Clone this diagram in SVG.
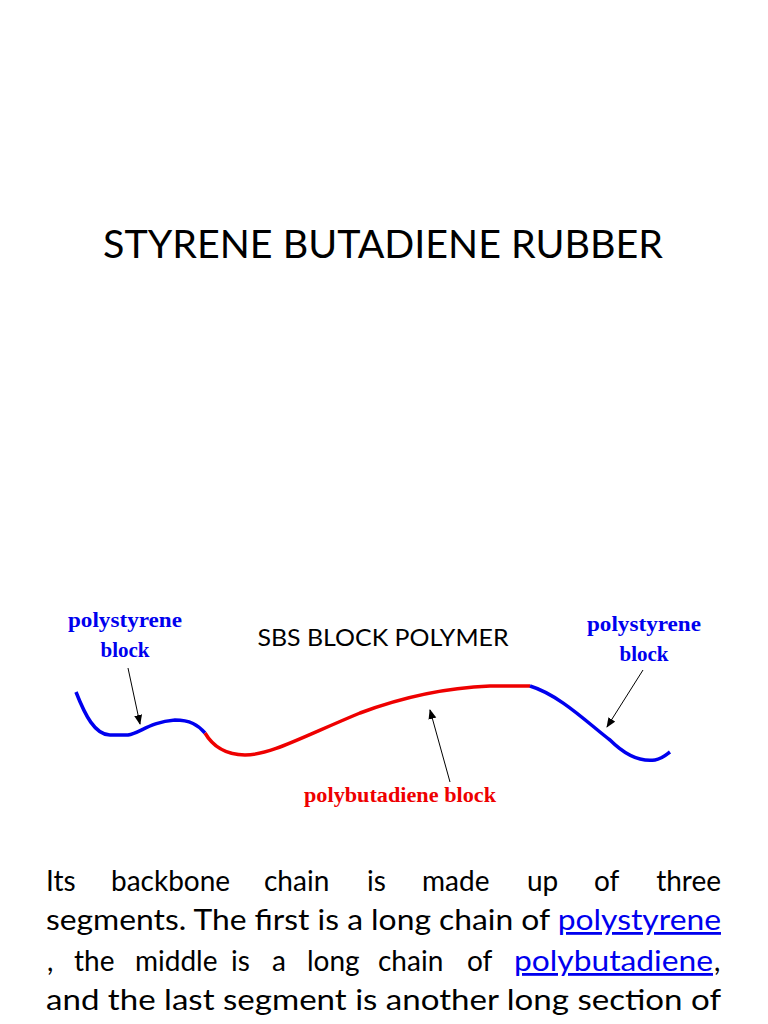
<svg xmlns="http://www.w3.org/2000/svg" width="768" height="1024" viewBox="0 0 768 1024">
<style>
.t{font-family:Lato,"Open Sans",sans-serif;fill:#000}
.lab{font-family:"Liberation Serif",serif;font-weight:bold;font-size:21px;text-anchor:middle}
.b{fill:none;stroke:#0000ee;stroke-width:3.5}
.r{fill:none;stroke:#ee0000;stroke-width:3.5}
.ar{stroke:#000;stroke-width:1;marker-end:url(#h)}
.body{font-family:Lato,"Open Sans",sans-serif;font-size:28px}
.lk{fill:#0000ee;text-decoration:underline}
</style>
<defs><marker id="h" markerWidth="10" markerHeight="10" refX="9" refY="4" orient="auto" markerUnits="userSpaceOnUse"><path d="M0,0 L10,4 L0,8 Z" fill="#000"/></marker></defs>
<rect width="768" height="1024" fill="#fff"/>
<text id="title" class="t" x="383" y="258" font-size="38" text-anchor="middle" textLength="560" lengthAdjust="spacingAndGlyphs">STYRENE BUTADIENE RUBBER</text>
<g id="chain">
<path class="b" d="M76,692 C85,715 95,735 110,735 L128,735 C140,733 150,722 175,720 C190,720 198,725 205,733"/>
<path class="r" d="M205,733 C212,745 225,755 245,755 C270,755 300,738 360,713 C400,698 440,688 490,686 L530,686"/>
<path class="b" d="M530,686 C560,695 590,725 610,740 C625,755 640,762 655,760 C662,759 666,755 670,752"/>
</g>
<g id="connectors">
<line class="ar" x1="128" y1="668" x2="140" y2="724"/>
<line class="ar" x1="450" y1="782" x2="430" y2="710"/>
<line class="ar" x1="643" y1="670" x2="607" y2="727"/>
</g>
<g id="labels">
<text class="lab" x="125" y="627" fill="#0000ee" textLength="114" lengthAdjust="spacingAndGlyphs">polystyrene</text>
<text class="lab" x="125" y="657" fill="#0000ee">block</text>
<text class="lab" x="644" y="631" fill="#0000ee" textLength="114" lengthAdjust="spacingAndGlyphs">polystyrene</text>
<text class="lab" x="644" y="661" fill="#0000ee">block</text>
<text class="lab" x="400" y="802" fill="#ee0000" textLength="192" lengthAdjust="spacingAndGlyphs">polybutadiene block</text>
<text class="t" x="383" y="646" font-size="24" text-anchor="middle" textLength="251" lengthAdjust="spacingAndGlyphs">SBS BLOCK POLYMER</text>
</g>
<g id="body" class="body">
<text x="46" y="891">Its</text>
<text x="111" y="891">backbone</text>
<text x="264" y="891">chain</text>
<text x="367" y="891">is</text>
<text x="422" y="891">made</text>
<text x="527" y="891">up</text>
<text x="594" y="891">of</text>
<text x="721" y="891" text-anchor="end">three</text>
<text x="46" y="930" textLength="675" lengthAdjust="spacingAndGlyphs">segments. The first is a long chain of <tspan class="lk">polystyrene</tspan></text>
<text x="47" y="971">,</text>
<text x="74" y="971">the</text>
<text x="135" y="971">middle</text>
<text x="231" y="971">is</text>
<text x="272" y="971">a</text>
<text x="307" y="971">long</text>
<text x="378" y="971">chain</text>
<text x="467" y="971">of</text>
<text x="514" y="971" textLength="199" lengthAdjust="spacingAndGlyphs" class="lk">polybutadiene</text>
<text x="714" y="971">,</text>
<text x="46" y="1010" textLength="675" lengthAdjust="spacingAndGlyphs">and the last segment is another long section of</text>
</g>
</svg>
